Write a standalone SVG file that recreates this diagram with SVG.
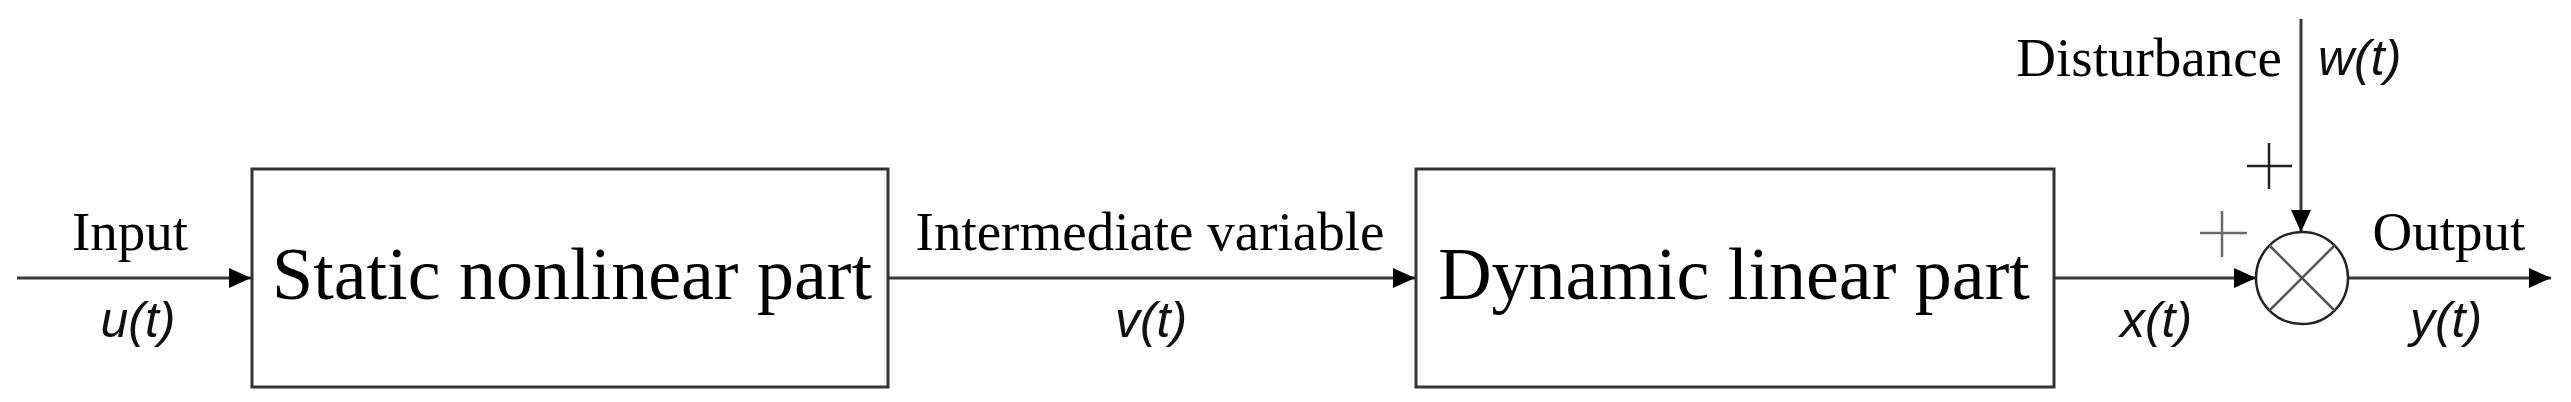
<svg xmlns="http://www.w3.org/2000/svg" width="2571" height="402" viewBox="0 0 2571 402">
<style>
.bg{fill:#ffffff}
.box{fill:#ffffff;stroke:#333333;stroke-width:3}
.wire{fill:none;stroke:#3a3a3a;stroke-width:3}
.lbl{font-family:"Liberation Serif","Times New Roman",serif;font-size:55px;fill:#000000}
.big{font-family:"Liberation Serif","Times New Roman",serif;font-size:74px;fill:#000000}
.var{font-family:"Liberation Sans",Arial,sans-serif;font-size:50px;font-style:italic;fill:#111111}
.sum{fill:#ffffff;stroke:#222222;stroke-width:2.5}
.cross{stroke:#555555;stroke-width:2.5}
.plus1{stroke:#222222;stroke-width:2.5}
.plus2{stroke:#6a6a6a;stroke-width:2.5}
</style>
<defs>
<marker id="arr" markerUnits="userSpaceOnUse" markerWidth="22" markerHeight="20" refX="22" refY="10" orient="auto" viewBox="0 0 22 20">
<path d="M0,0 L22,10 L0,20 Z" fill="#000000"/>
</marker>
</defs>
<rect class="bg" x="0" y="0" width="2571" height="402"/>
<g id="connectors">
<line class="wire" x1="17" y1="278" x2="251" y2="278" marker-end="url(#arr)"/>
<line class="wire" x1="888" y1="278" x2="1415" y2="278" marker-end="url(#arr)"/>
<line class="wire" x1="2054" y1="278" x2="2256" y2="278" marker-end="url(#arr)"/>
<line class="wire" x1="2301" y1="19" x2="2301" y2="232" marker-end="url(#arr)"/>
<line class="wire" x1="2348" y1="278" x2="2551" y2="278" marker-end="url(#arr)"/>
</g>
<g id="input-labels">
<text class="lbl" x="130" y="250" text-anchor="middle">Input</text>
<text class="var" x="138" y="337" text-anchor="middle">u(t)</text>
</g>
<g id="static-nonlinear">
<rect class="box" x="252" y="169" width="636" height="218"/>
<text class="big" x="572" y="299" text-anchor="middle">Static nonlinear part</text>
</g>
<g id="intermediate-labels">
<text class="lbl" x="1150" y="250" text-anchor="middle">Intermediate variable</text>
<text class="var" x="1151" y="337" text-anchor="middle">v(t)</text>
</g>
<g id="dynamic-linear">
<rect class="box" x="1416" y="169" width="638" height="218"/>
<text class="big" x="1734" y="299" text-anchor="middle">Dynamic linear part</text>
</g>
<g id="x-label">
<text class="var" x="2156" y="337" text-anchor="middle">x(t)</text>
</g>
<g id="disturbance-labels">
<text class="lbl" x="2282" y="76" text-anchor="end">Disturbance</text>
<text class="var" x="2318" y="75">w(t)</text>
</g>
<g id="summing-junction">
<circle class="sum" cx="2302" cy="278" r="46"/>
<line class="cross" x1="2269.5" y1="245.5" x2="2334.5" y2="310.5"/>
<line class="cross" x1="2334.5" y1="245.5" x2="2269.5" y2="310.5"/>
<line class="plus1" x1="2269" y1="143" x2="2269" y2="189"/>
<line class="plus1" x1="2247" y1="166" x2="2292" y2="166"/>
<line class="plus2" x1="2222" y1="211" x2="2222" y2="257"/>
<line class="plus2" x1="2200" y1="233" x2="2247" y2="233"/>
</g>
<g id="output-labels">
<text class="lbl" x="2449" y="250" text-anchor="middle">Output</text>
<text class="var" x="2446" y="337" text-anchor="middle">y(t)</text>
</g>
</svg>
